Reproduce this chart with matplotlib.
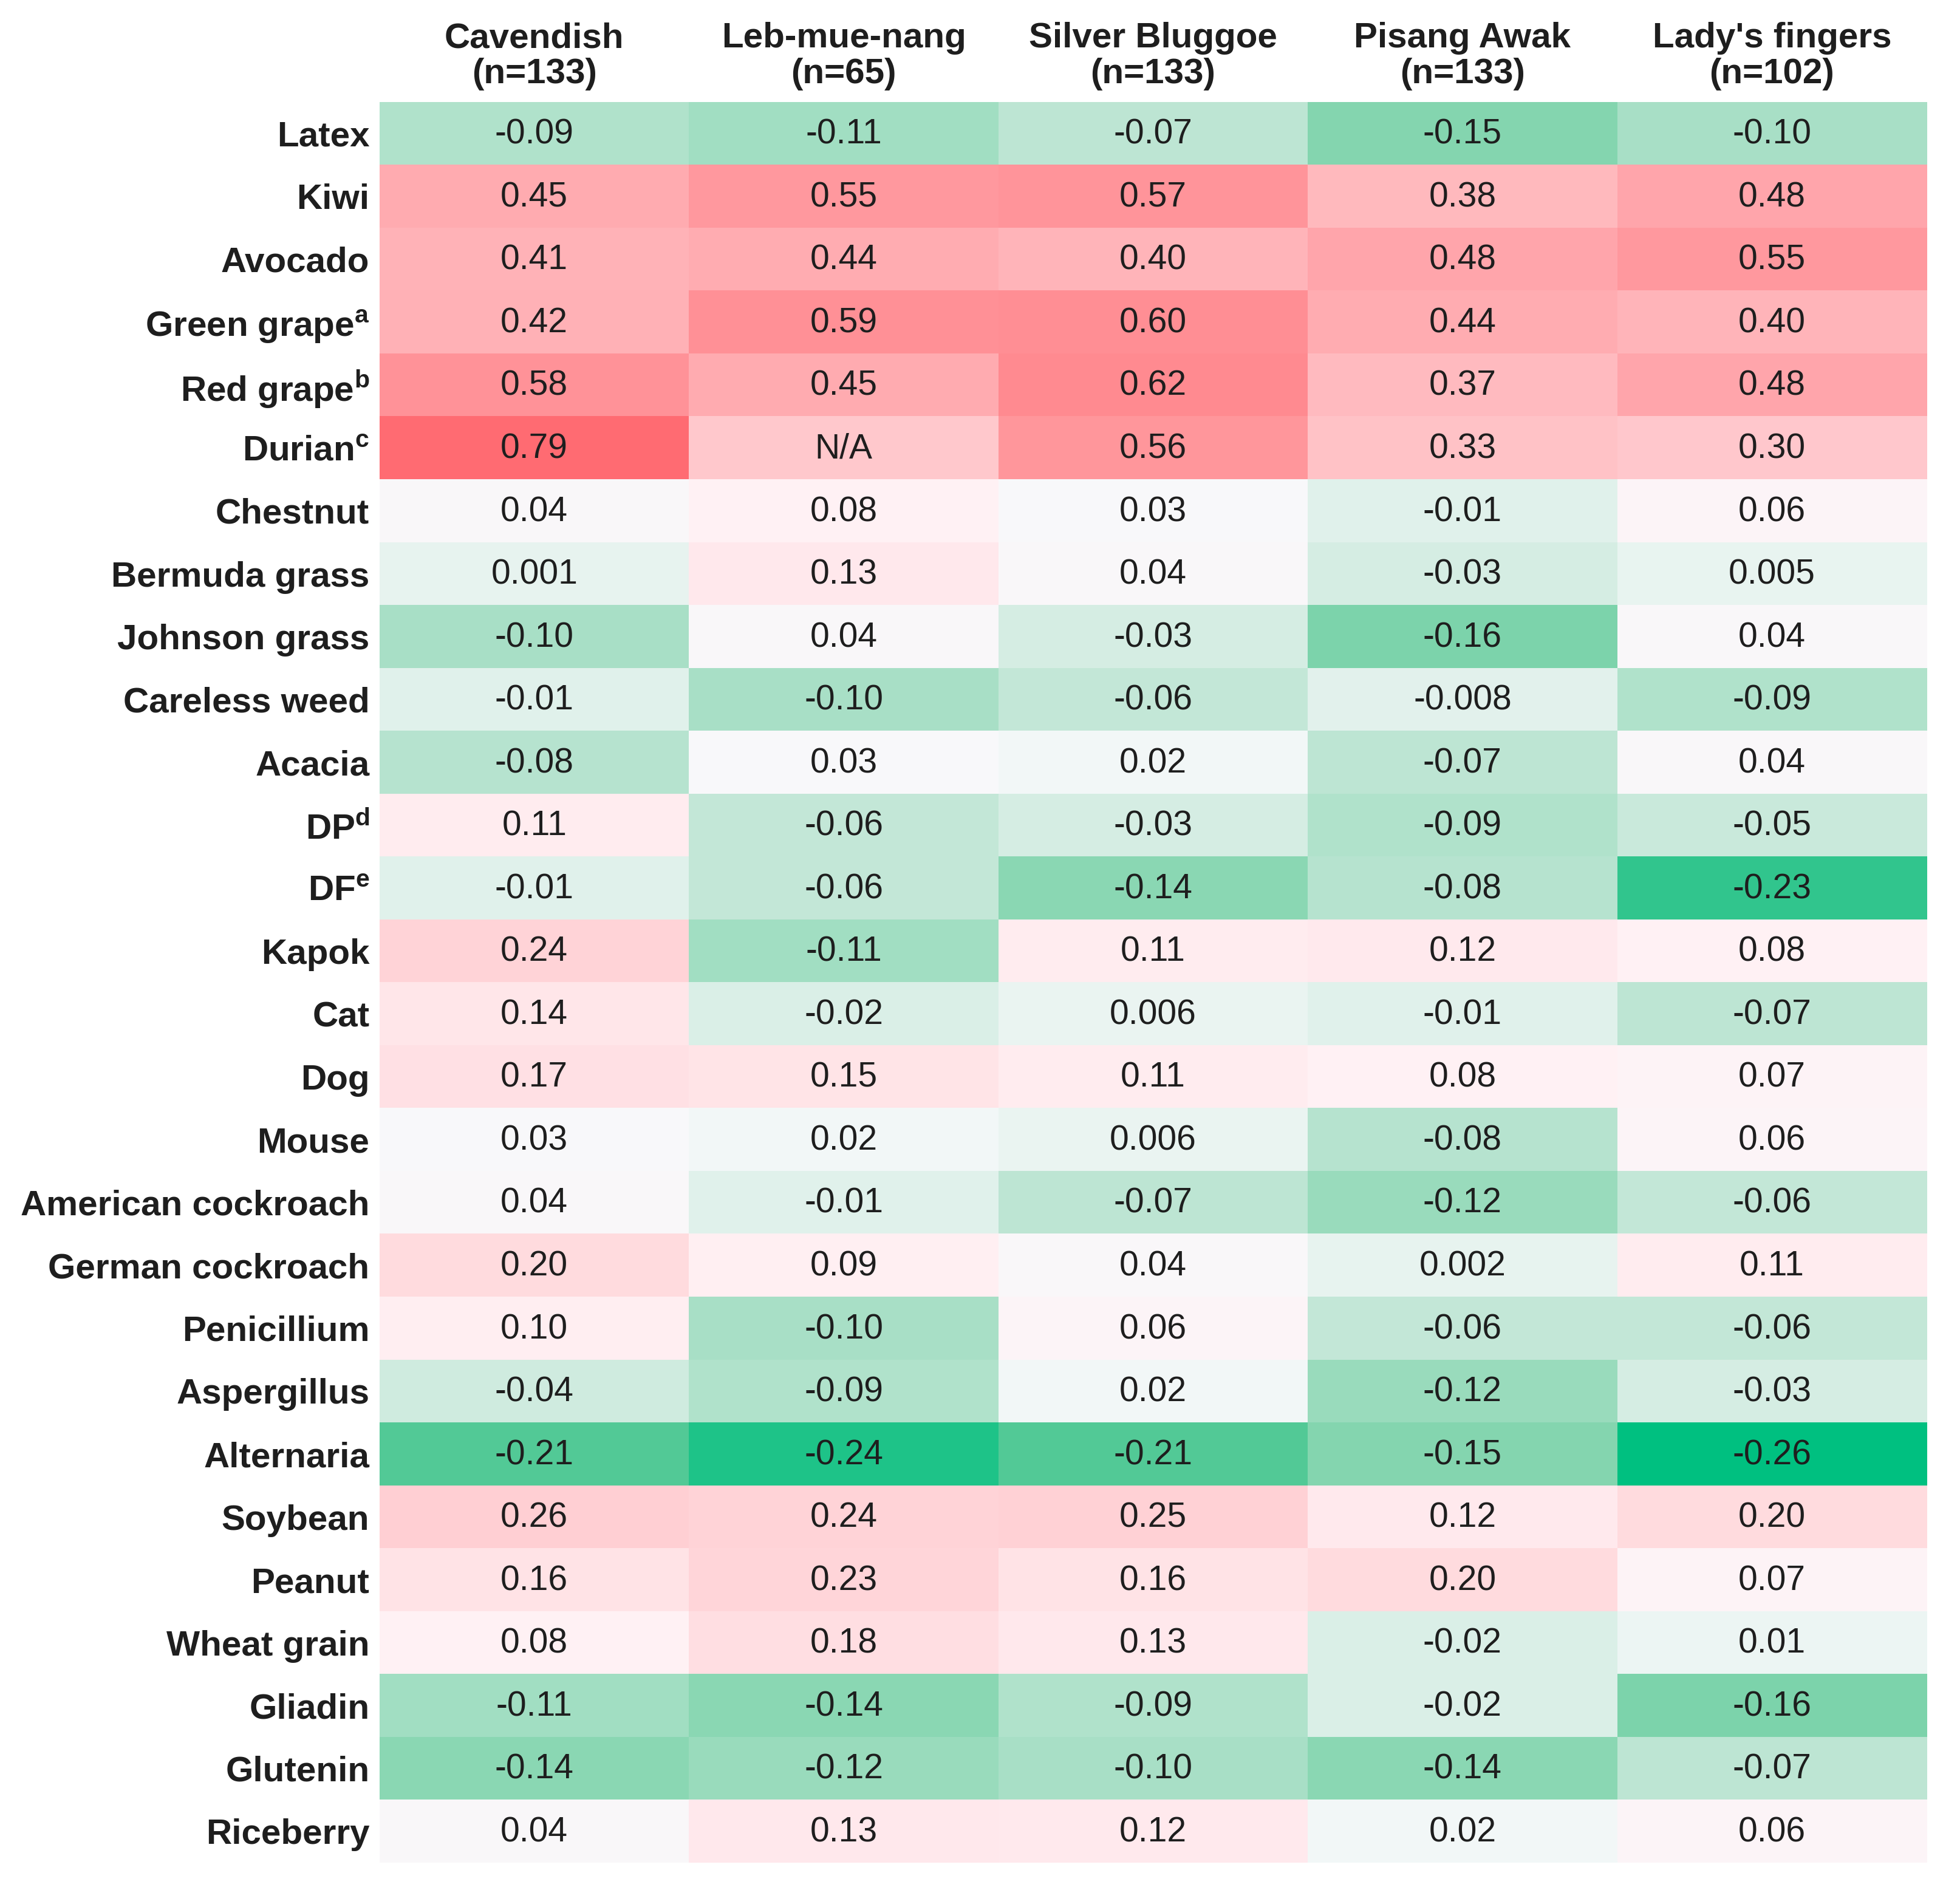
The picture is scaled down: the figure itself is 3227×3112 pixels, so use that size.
import numpy as np
import matplotlib
matplotlib.use("Agg")
import matplotlib.pyplot as plt
from matplotlib.colors import LinearSegmentedColormap, TwoSlopeNorm

plt.rcParams['font.family'] = ['Liberation Sans', 'DejaVu Sans']
plt.rcParams['mathtext.fontset'] = 'custom'
plt.rcParams['mathtext.rm'] = 'Liberation Sans'
plt.rcParams['mathtext.bf'] = 'Liberation Sans:bold'

# data ------------------------------------------------------------
varieties = ["Cavendish", "Leb-mue-nang", "Silver Bluggoe", "Pisang Awak", "Lady's fingers"]
sample_sizes = [133, 65, 133, 133, 102]

allergens = ["Latex", "Kiwi", "Avocado", "Green grape$^{\\mathbf{a}}$", "Red grape$^{\\mathbf{b}}$",
             "Durian$^{\\mathbf{c}}$", "Chestnut", "Bermuda grass", "Johnson grass", "Careless weed",
             "Acacia", "DP$^{\\mathbf{d}}$", "DF$^{\\mathbf{e}}$", "Kapok", "Cat", "Dog", "Mouse",
             "American cockroach", "German cockroach", "Penicillium", "Aspergillus", "Alternaria",
             "Soybean", "Peanut", "Wheat grain", "Gliadin", "Glutenin", "Riceberry"]

cavendish = [-0.09, 0.45, 0.41, 0.42, 0.58, 0.79, 0.04, 0.001, -0.10, -0.01, -0.08, 0.11, -0.01, 0.24,
             0.14, 0.17, 0.03, 0.04, 0.20, 0.10, -0.04, -0.21, 0.26, 0.16, 0.08, -0.11, -0.14, 0.04]
leb_mue_nang = [-0.11, 0.55, 0.44, 0.59, 0.45, np.nan, 0.08, 0.13, 0.04, -0.10, 0.03, -0.06, -0.06, -0.11,
                -0.02, 0.15, 0.02, -0.01, 0.09, -0.10, -0.09, -0.24, 0.24, 0.23, 0.18, -0.14, -0.12, 0.13]
silver_bluggoe = [-0.07, 0.57, 0.40, 0.60, 0.62, 0.56, 0.03, 0.04, -0.03, -0.06, 0.02, -0.03, -0.14, 0.11,
                  0.006, 0.11, 0.006, -0.07, 0.04, 0.06, 0.02, -0.21, 0.25, 0.16, 0.13, -0.09, -0.10, 0.12]
pisang_awak = [-0.15, 0.38, 0.48, 0.44, 0.37, 0.33, -0.01, -0.03, -0.16, -0.008, -0.07, -0.09, -0.08, 0.12,
               -0.01, 0.08, -0.08, -0.12, 0.002, -0.06, -0.12, -0.15, 0.12, 0.20, -0.02, -0.02, -0.14, 0.02]
ladys_fingers = [-0.10, 0.48, 0.55, 0.40, 0.48, 0.30, 0.06, 0.005, 0.04, -0.09, 0.04, -0.05, -0.23, 0.08,
                 -0.07, 0.07, 0.06, -0.06, 0.11, -0.06, -0.03, -0.26, 0.20, 0.07, 0.01, -0.16, -0.07, 0.06]

matrix = np.array([cavendish, leb_mue_nang, silver_bluggoe, pisang_awak, ladys_fingers]).T


def fmt(v):
    if np.isnan(v):
        return "N/A"
    if abs(v) < 0.01:
        return f"{v:.3f}"
    return f"{v:.2f}"


# colour scale: green (min) -> near white (centre) -> red (max)
def rgb(r, g, b):
    return (r / 255, g / 255, b / 255)

green_side = [(1.0, rgb(0, 192, 128)), (0.83, rgb(82, 201, 150)), (0.62, rgb(133, 214, 176)),
              (0.345, rgb(190, 230, 212)), (0.0, rgb(248, 249, 251))]
red_side = [(0.066, rgb(255, 242, 245)), (1.0, rgb(255, 107, 114))]
nodes = [(0.5 - 0.5 * u, c) for u, c in green_side] + [(0.5 + 0.5 * t, c) for t, c in red_side]
cmap = LinearSegmentedColormap.from_list("gwr", nodes)
cmap.set_bad("#FFC8CC")
norm = TwoSlopeNorm(vmin=np.nanmin(matrix), vcenter=0.03, vmax=np.nanmax(matrix))

# plot ------------------------------------------------------------
fig = plt.figure(figsize=(32.27, 31.12), dpi=100)
ax = fig.add_axes([625 / 3227, 1 - 3067 / 3112, 2547 / 3227, 2899 / 3112])
ax.imshow(np.ma.masked_invalid(matrix), cmap=cmap, norm=norm, aspect='auto', interpolation='nearest')

for i in range(matrix.shape[0]):
    for j in range(matrix.shape[1]):
        ax.text(j, i + 0.02, fmt(matrix[i, j]), ha='center', va='center', fontsize=41, color='#1e1e1e')

ax.set_yticks(range(len(allergens)))
ax.set_yticklabels(allergens, fontsize=42, fontweight='bold', color='#1e1e1e')
ax.xaxis.tick_top()
ax.set_xticks(range(len(varieties)))
ax.set_xticklabels([f"{v}\n(n={n})" for v, n in zip(varieties, sample_sizes)],
                   fontsize=42, fontweight='bold', color='#1e1e1e', linespacing=1.1)
ax.tick_params(axis='y', length=0, pad=12)
ax.tick_params(axis='x', length=0, pad=14)
for s in ax.spines.values():
    s.set_visible(False)

fig.savefig("out.png", dpi=100, facecolor='white')
